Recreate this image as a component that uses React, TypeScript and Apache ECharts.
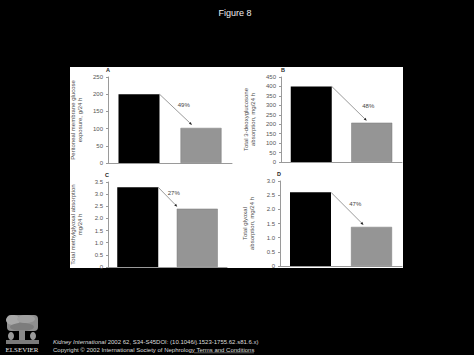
import React, { useEffect, useRef } from "react";
import * as echarts from "echarts";

// ---- data ----
const categories = ["Control", "Treatment"];
const valuesA = [200, 102];
const valuesB = [400, 208];
const valuesC = [3.28, 2.4];
const valuesD = [2.6, 1.38];
const pctLabels = ["49%", "48%", "27%", "47%"];
const panelLetters = ["A", "B", "C", "D"];
const yTitleA = ["Peritoneal membrane glucose", "exposure, g/24 h"];
const yTitleB = ["Total 3-deoxyglucosone", "absorption, mg/24 h"];
const yTitleC = ["Total methylglyoxal absorption", "mg/24 h"];
const yTitleD = ["Total glyoxal", "absorption, mg/24 h"];
const yMax = [250, 450, 3.5, 3.0];
const yInterval = [50, 50, 0.5, 0.5];
const footerLine1Journal = "Kidney International";
const footerLine1Rest = " 2002 62, S34-S45DOI: (10.1046/j.1523-1755.62.s81.6.x)";
const footerLine2 = "Copyright © 2002 International Society of Nephrology ";
const footerLink = "Terms and Conditions";
const figureTitle = "Figure 8";

// ---- layout / style ----
const BAR_W = 41;
const FONT = "'Liberation Sans', Arial, sans-serif";
const grids = [
  { left: 108, top: 77, width: 124, height: 86 },
  { left: 281, top: 77, width: 121, height: 85 },
  { left: 108, top: 182, width: 119, height: 85 },
  { left: 280, top: 181, width: 122, height: 85 },
];
const arrowCfg = [
  { endDx: -9, endDy: -3, lx: 8, ly: -5 },
  { endDx: -5, endDy: -2, lx: 19, ly: 2 },
  { endDx: -20, endDy: -2, lx: 6, ly: -4 },
  { endDx: -8, endDy: -2, lx: 8, ly: -5 },
];
const letterPos = [
  [108, 70],
  [283, 70],
  [107, 175],
  [279, 174],
];

export default function App() {
  const ref = useRef<HTMLDivElement>(null);
  useEffect(() => {
    if (!ref.current) return;
    const chart = echarts.init(ref.current, null, { renderer: "svg" });
    const allValues = [valuesA, valuesB, valuesC, valuesD];
    const titles = [yTitleA, yTitleB, yTitleC, yTitleD];

    const xAxis = grids.map((_, i) => ({
      type: "category",
      gridIndex: i,
      data: categories,
      axisLine: { lineStyle: { color: "#9a9a9a", width: 1 } },
      axisTick: { length: 2, lineStyle: { color: "#9a9a9a" } },
      axisLabel: { show: false },
    }));
    const yAxis = grids.map((_, i) => ({
      type: "value",
      gridIndex: i,
      min: 0,
      max: yMax[i],
      interval: yInterval[i],
      name: titles[i].join("\n"),
      nameLocation: "middle",
      nameGap: 25,
      nameTextStyle: {
        fontSize: 6,
        lineHeight: 7,
        color: "#4a4a4a",
        fontFamily: FONT,
      },
      axisLine: { show: true, lineStyle: { color: "#9a9a9a", width: 1 } },
      axisTick: { show: true, length: 2, lineStyle: { color: "#9a9a9a" } },
      splitLine: { show: false },
      axisLabel: {
        fontSize: 6,
        color: "#555",
        fontFamily: FONT,
        margin: 5,
        formatter: (v: number) =>
          yInterval[i] < 1 ? (v === 0 ? "0" : v.toFixed(1)) : String(v),
      },
    }));

    const series: any[] = [];
    allValues.forEach((vals, i) => {
      series.push({
        type: "bar",
        xAxisIndex: i,
        yAxisIndex: i,
        barWidth: BAR_W,
        data: [
          { value: vals[0], itemStyle: { color: "#000" } },
          {
            value: vals[1],
            itemStyle: { color: "#959595", borderColor: "#7a7a7a", borderWidth: 0.5 },
          },
        ],
        z: 2,
      });
      const cfg = arrowCfg[i];
      series.push({
        type: "custom",
        xAxisIndex: i,
        yAxisIndex: i,
        z: 5,
        silent: true,
        data: [[0, vals[0], 1, vals[1]]],
        renderItem: (_p: any, api: any) => {
          const p0 = api.coord([api.value(0), api.value(1)]);
          const p1 = api.coord([api.value(2), api.value(3)]);
          const x0 = p0[0] + BAR_W / 2;
          const y0 = p0[1];
          const x1 = p1[0] + cfg.endDx;
          const y1 = p1[1] + cfg.endDy;
          const ang = Math.atan2(y1 - y0, x1 - x0);
          const c = Math.cos(ang);
          const s = Math.sin(ang);
          const L = 3;
          const W = 1.3;
          const bx = x1 - L * c;
          const by = y1 - L * s;
          return {
            type: "group",
            children: [
              {
                type: "line",
                shape: { x1: x0, y1: y0, x2: bx, y2: by },
                style: { stroke: "#555", lineWidth: 0.6 },
              },
              {
                type: "polygon",
                shape: {
                  points: [
                    [x1, y1],
                    [bx - W * s, by + W * c],
                    [bx + W * s, by - W * c],
                  ],
                },
                style: { fill: "#222" },
              },
              {
                type: "text",
                x: (x0 + x1) / 2 + cfg.lx,
                y: (y0 + y1) / 2 + cfg.ly,
                style: {
                  text: pctLabels[i],
                  fontSize: 6,
                  fontFamily: FONT,
                  fill: "#444",
                  align: "center",
                  verticalAlign: "middle",
                },
              },
            ],
          };
        },
      });
    });

    const graphic: any[] = [
      {
        type: "rect",
        z: -10,
        shape: { x: 70, y: 67, width: 333, height: 201 },
        style: { fill: "#ffffff" },
      },
      {
        type: "text",
        x: 235,
        y: 13,
        style: {
          text: figureTitle,
          fontSize: 9,
          fontFamily: FONT,
          fill: "#f0f0f0",
          align: "center",
          verticalAlign: "middle",
        },
      },
      ...panelLetters.map((l, i) => ({
        type: "text",
        x: letterPos[i][0],
        y: letterPos[i][1],
        style: {
          text: l,
          fontSize: 5.5,
          fontWeight: "bold",
          fontFamily: FONT,
          fill: "#222",
          align: "center",
          verticalAlign: "middle",
        },
      })),
      // Elsevier logo (stylised tree)
      { type: "rect", shape: { x: 7, y: 315, width: 31, height: 16, r: 4 }, style: { fill: "#8f8f8f" } },
      { type: "ellipse", shape: { cx: 13, cy: 320, rx: 7, ry: 5 }, style: { fill: "#a8a8a8" } },
      { type: "ellipse", shape: { cx: 26, cy: 319, rx: 9, ry: 4 }, style: { fill: "#a0a0a0" } },
      { type: "ellipse", shape: { cx: 22, cy: 327, rx: 12, ry: 4 }, style: { fill: "#7d7d7d" } },
      { type: "rect", shape: { x: 19, y: 330, width: 6, height: 13 }, style: { fill: "#8a8a8a" } },
      { type: "rect", shape: { x: 6, y: 340, width: 33, height: 4 }, style: { fill: "#7a7a7a" } },
      { type: "ellipse", shape: { cx: 11, cy: 336, rx: 3, ry: 4 }, style: { fill: "#9a9a9a" } },
      { type: "ellipse", shape: { cx: 33, cy: 336, rx: 3, ry: 4 }, style: { fill: "#9a9a9a" } },
      {
        type: "text",
        x: 22,
        y: 350,
        style: {
          text: "ELSEVIER",
          fontSize: 7,
          fontFamily: "'Liberation Serif', 'DejaVu Serif', serif",
          fill: "#e8e8e8",
          align: "center",
          verticalAlign: "middle",
        },
      },
      {
        type: "text",
        x: 53,
        y: 342,
        style: {
          text: "{i|" + footerLine1Journal + "}{n|" + footerLine1Rest + "}",
          verticalAlign: "middle",
          rich: {
            i: { fontSize: 6, fontStyle: "italic", fontFamily: FONT, fill: "#dcdcdc" },
            n: { fontSize: 6, fontFamily: FONT, fill: "#dcdcdc" },
          },
        },
      },
      {
        type: "text",
        x: 53,
        y: 349.5,
        style: {
          text: footerLine2 + footerLink,
          fontSize: 6,
          fontFamily: FONT,
          fill: "#dcdcdc",
          verticalAlign: "middle",
        },
      },
      {
        type: "line",
        shape: { x1: 194, y1: 352.8, x2: 254, y2: 352.8 },
        style: { stroke: "#bbb", lineWidth: 0.5 },
      },
    ];

    chart.setOption({
      animation: false,
      backgroundColor: "#000000",
      grid: grids.map((g) => ({ ...g, containLabel: false })),
      xAxis,
      yAxis,
      series,
      graphic,
    });
    return () => chart.dispose();
  }, []);

  return (
    <div
      ref={ref}
      style={{ position: "fixed", left: 0, top: 0, width: 474, height: 355 }}
    />
  );
}
